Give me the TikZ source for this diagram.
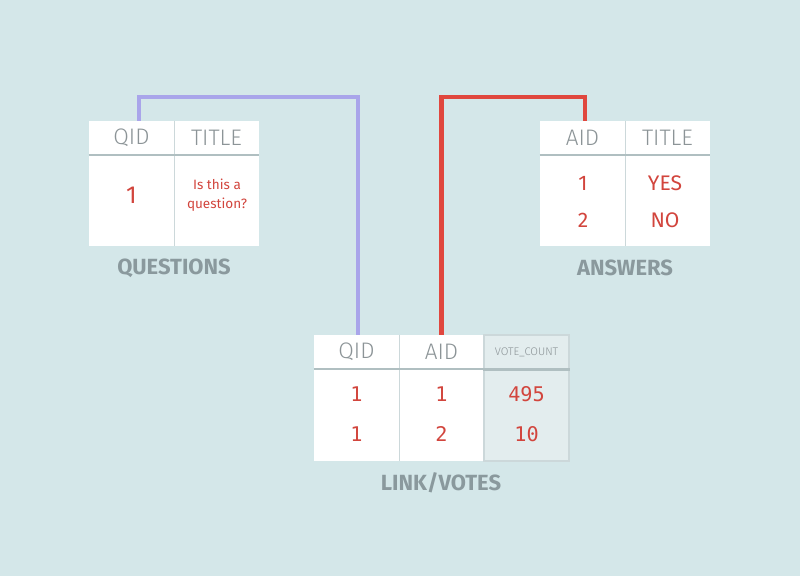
\documentclass[tikz,border=0pt]{standalone}
\usepackage{fontspec}
\setmainfont{Fira Sans}
\newfontfamily\lightfont{Fira Sans Light}
\newfontfamily\numfont{DejaVu Sans Mono}
\definecolor{bg}{HTML}{D4E7E9}
\definecolor{headgray}{HTML}{8C9497}
\definecolor{namegray}{HTML}{8A999D}
\definecolor{valred}{HTML}{D2453D}
\definecolor{qblue}{HTML}{A9A5EA}
\definecolor{ared}{HTML}{E0473E}
\definecolor{rulegray}{HTML}{B0BFC1}
\definecolor{divgray}{HTML}{CCD8DA}
\definecolor{votefill}{HTML}{E3EDEE}
\begin{document}
\begin{tikzpicture}[x=0.02cm, y=-0.02cm,
  head/.style={fill=white, minimum width=1.7cm, minimum height=0.68cm, inner sep=0pt, text=headgray, font=\lightfont\fontsize{12.8}{13}\selectfont},
  body/.style={fill=white, minimum width=1.7cm, minimum height=1.82cm, inner sep=0pt},
  votecell/.style={fill=votefill, draw=divgray, line width=0.6pt},
  val/.style={text=valred, inner sep=0pt, font=\fontsize{12}{12}\selectfont},
  monoval/.style={text=valred, inner sep=0pt, font=\numfont\fontsize{11.5}{12}\selectfont},
  tablename/.style={text=namegray, font=\bfseries\fontsize{12.5}{12}\selectfont},
  rule/.style={rulegray, line width=1.2pt},
  divider/.style={divgray, line width=0.6pt},
  link/.style={line width=2.3pt}]
% background
\fill[bg] (0,0) rectangle (800,576);
\useasboundingbox (0,0) rectangle (800,576);

% questions table
\node[head] (qqid) at (131.5,138) {QID};
\node[head] (qtitle) at (216.5,138) {TITLE};
\node[body] (qqidb) at (131.5,200.5) {};
\node[body] (qtitleb) at (216.5,200.5) {};
\draw[divider] (qqid.north east) -- (qqidb.south east);
\draw[rule] (qqid.south west) -- (qtitle.south east);
\node[val, font=\fontsize{14}{14}\selectfont] (qone) at (131.5,195) {1};
\node[val, align=center, font=\fontsize{7.7}{10.5}\selectfont] (qtext) at (217,195) {Is this a\\question?};
\node[tablename] (qname) at (174,268) {QUESTIONS};

% answers table
\node[head] (aaid) at (582.5,138) {AID};
\node[head] (atitle) at (667.5,138) {TITLE};
\node[body] (aaidb) at (582.5,200.5) {};
\node[body] (atitleb) at (667.5,200.5) {};
\draw[divider] (aaid.north east) -- (aaidb.south east);
\draw[rule] (aaid.south west) -- (atitle.south east);
\node[val] (aone) at (583,183) {1};
\node[val] (ayes) at (665,183) {YES};
\node[val] (atwo) at (583,220) {2};
\node[val] (ano) at (665,220) {NO};
\node[tablename] (aname) at (625,268) {ANSWERS};

% link/votes table
\node[head] (lqid) at (356.5,352) {QID};
\node[head] (laid) at (441.5,352) {AID};
\node[head, votecell, font=\lightfont\fontsize{6.3}{7}\selectfont] (lvote) at (526.5,352) {VOTE\_COUNT};
\node[body, minimum height=1.84cm] (lqidb) at (356.5,415) {};
\node[body, minimum height=1.84cm] (laidb) at (441.5,415) {};
\node[body, votecell, minimum height=1.84cm] (lvoteb) at (526.5,415) {};
\draw[divider] (lqid.north east) -- (lqidb.south east);
\draw[rule] (lqid.south west) -- (laid.south east);
\draw[rule] (lvote.south west) -- (lvote.south east);
\node[monoval] (lq1) at (356.5,394) {1};
\node[monoval] (la1) at (441.5,394) {1};
\node[monoval] (lv1) at (526.5,394) {495};
\node[monoval] (lq2) at (356.5,434) {1};
\node[monoval] (la2) at (441.5,434) {2};
\node[monoval] (lv2) at (526.5,434) {10};
\node[tablename] (lname) at (441,483) {LINK/VOTES};

% connectors
\draw[link, qblue] ([xshift=0.15cm]qqid.north) -- ++(0,-24) -| ([xshift=0.03cm]lqid.north);
\draw[link, ared] (laid.north) -- ++(0,-238) -| ([xshift=0.05cm]aaid.north);
\end{tikzpicture}
\end{document}
